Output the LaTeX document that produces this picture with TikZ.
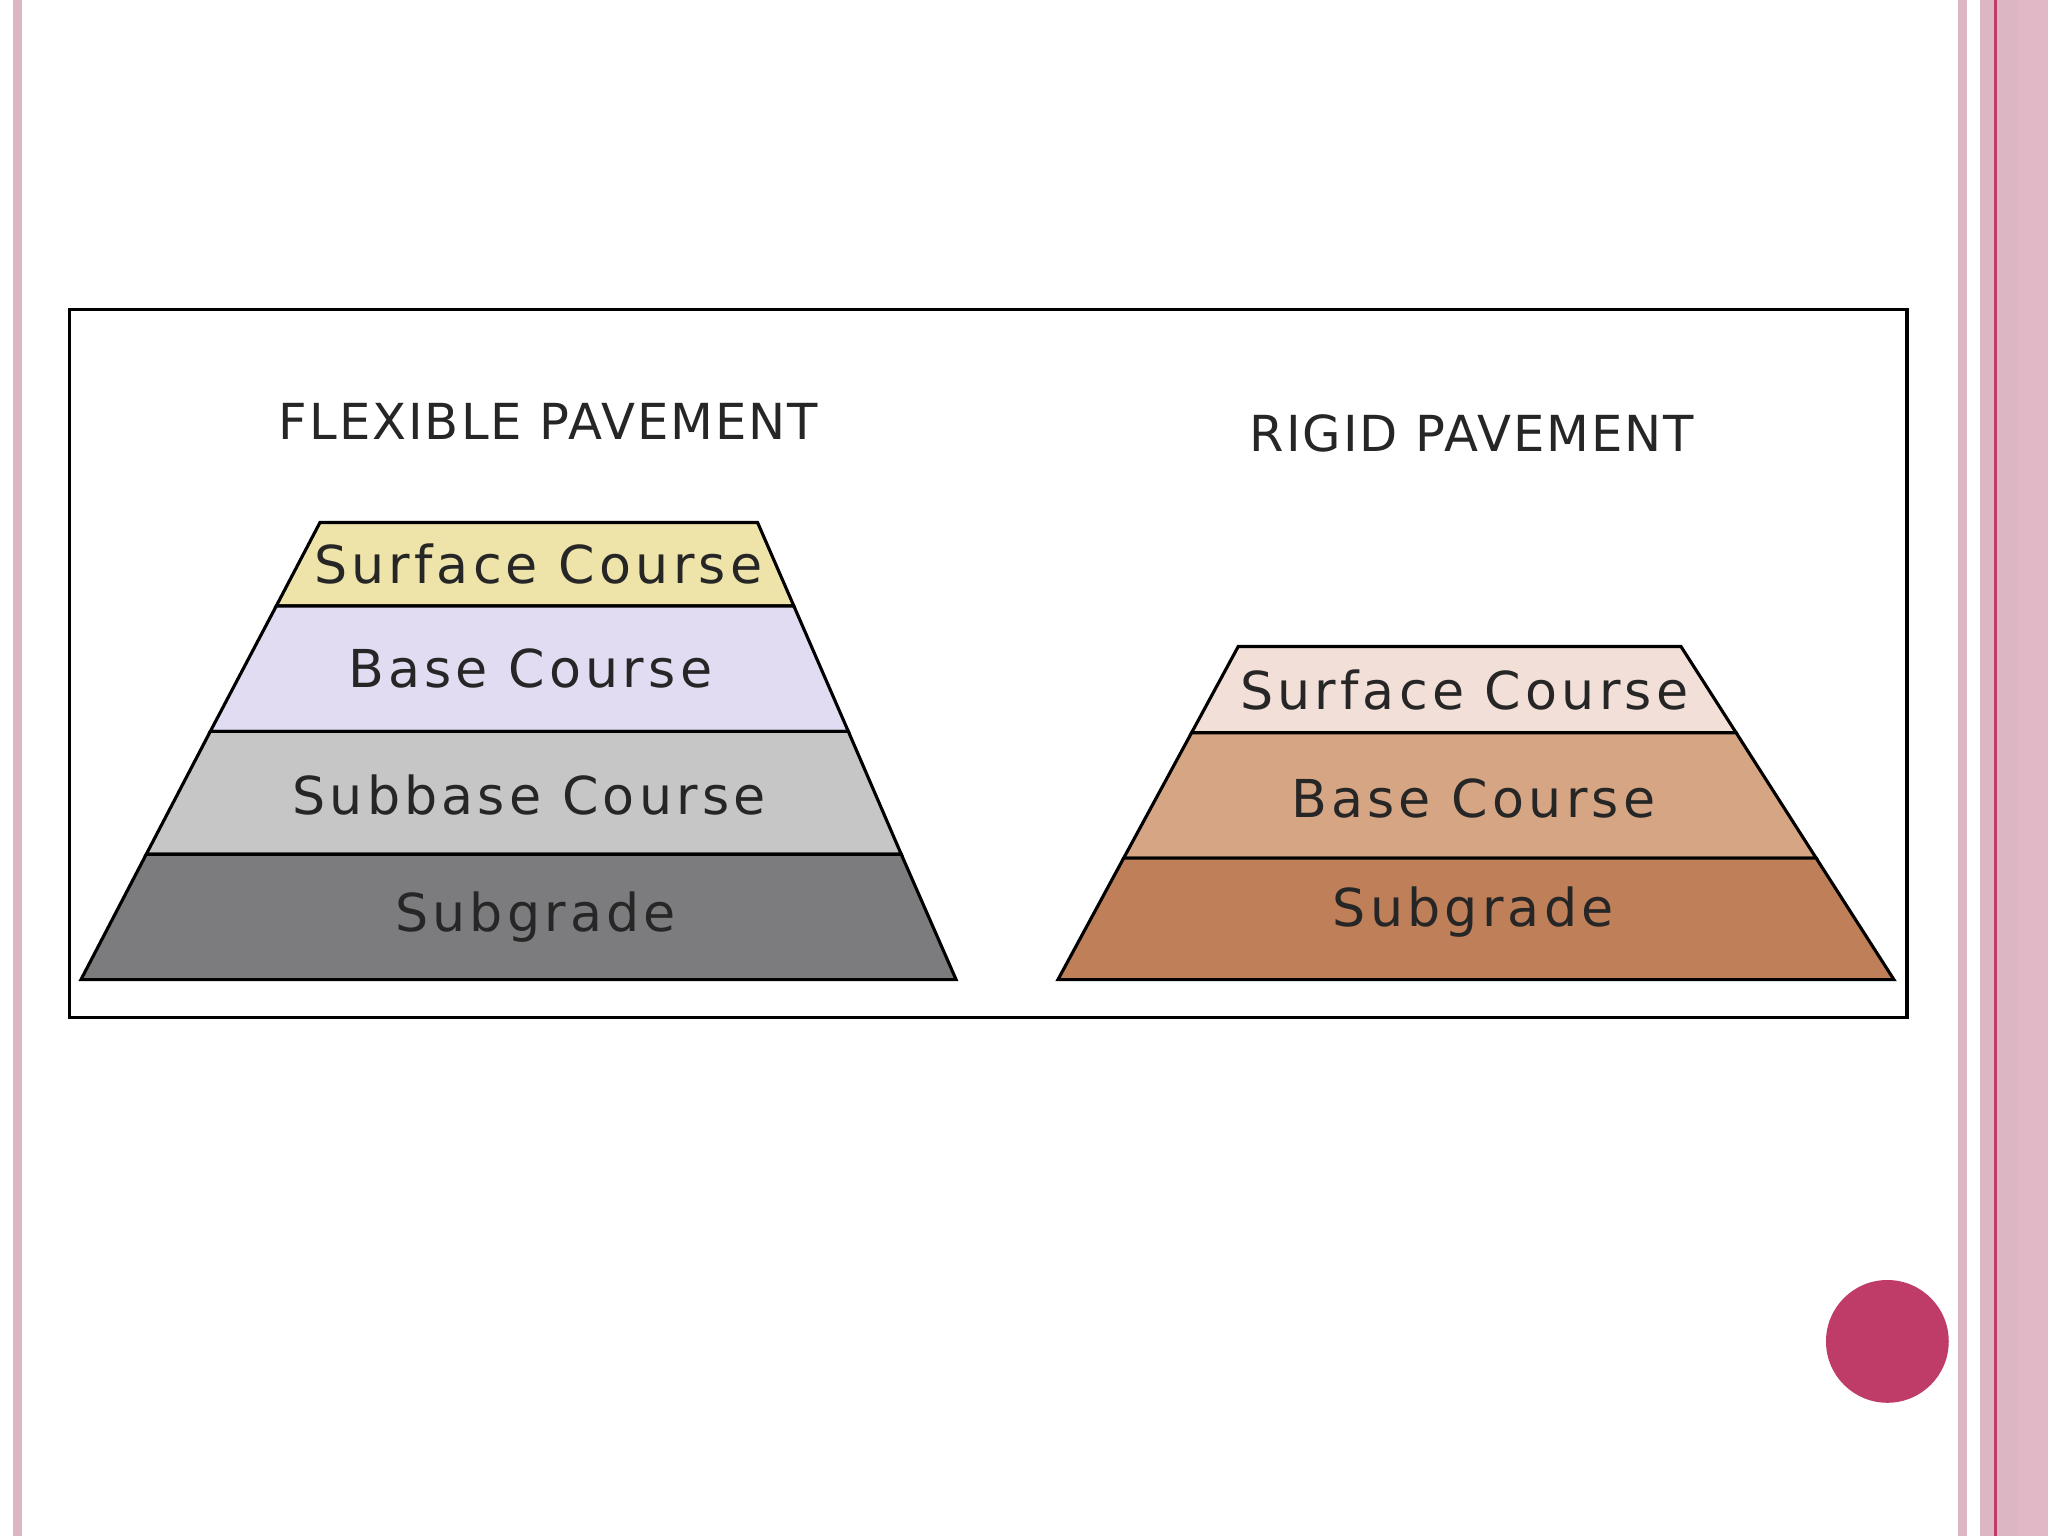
\documentclass[tikz,border=0pt]{standalone}
\usepackage{fontspec}
\setmainfont{DejaVu Sans}
\newfontfamily\spaced[LetterSpace=8]{DejaVu Sans}
\newfontfamily\spacedt[LetterSpace=4]{DejaVu Sans}
\begin{document}
\begin{tikzpicture}[x=0.5pt,y=-0.5pt,
  lay/.style={draw=black,line width=1.2pt},
  lbl/.style={font=\spaced\fontsize{20}{22}\selectfont,text=black!85},
  ttl/.style={font=\spacedt\fontsize{19}{22}\selectfont,text=black!85}]
\definecolor{dotc}{HTML}{C03C68}\definecolor{linec}{HTML}{BE3C64}
\definecolor{stripe}{HTML}{DDB6C4}\definecolor{stripe2}{HTML}{E0B8C6}
\useasboundingbox (0,0) rectangle (1568,1176);
\fill[white] (0,0) rectangle (1568,1176);
% edge stripes
\fill[stripe] (10,0) rectangle (17,1176);
\fill[stripe] (1499,0) rectangle (1506,1176);
\fill[stripe] (1516,0) rectangle (1568,1176);
\fill[stripe2] (1545,0) rectangle (1568,1176);
\draw[draw=linec,line width=1pt] (1528,0) -- (1528,1176);
% frame
\draw[line width=1.2pt] (53,237) rectangle (1460,779);
% flexible
\node[ttl] (ft) at (420,323) {FLEXIBLE PAVEMENT};
\definecolor{fs}{HTML}{EEE4AA}\definecolor{fb}{HTML}{E2DCF2}
\definecolor{fsb}{HTML}{C6C6C6}\definecolor{fg}{HTML}{7C7C7E}
\filldraw[lay,fill=fs] (245,400) -- (580,400) -- (607.8,464) -- (211.5,464) -- cycle;
\filldraw[lay,fill=fb] (211.5,464) -- (607.8,464) -- (649.5,560) -- (161,560) -- cycle;
\filldraw[lay,fill=fsb] (161,560) -- (649.5,560) -- (690,654) -- (112,654) -- cycle;
\filldraw[lay,fill=fg] (112,654) -- (690,654) -- (732,750) -- (62,750) -- cycle;
\node[lbl] (f1) at (412,432) {Surface Course};
\node[lbl] (f2) at (406,512) {Base Course};
\node[lbl] (f3) at (405,609) {Subbase Course};
\node[lbl] (f4) at (410,702) {Subgrade};
% rigid
\node[ttl] (rt) at (1127,332) {RIGID PAVEMENT};
\definecolor{rs}{HTML}{F2DFD7}\definecolor{rb}{HTML}{D6A584}\definecolor{rg}{HTML}{BE7F59}
\filldraw[lay,fill=rs] (948,495) -- (1287,495) -- (1329.2,561) -- (912.3,561) -- cycle;
\filldraw[lay,fill=rb] (912.3,561) -- (1329.2,561) -- (1390.5,657) -- (860.3,657) -- cycle;
\filldraw[lay,fill=rg] (860.3,657) -- (1390.5,657) -- (1450,750) -- (810,750) -- cycle;
\node[lbl] (r1) at (1121,528) {Surface Course};
\node[lbl] (r2) at (1128,611) {Base Course};
\node[lbl] (r3) at (1128,698) {Subgrade};
% dot
\fill[dotc] (1445,1027) circle (47);
\end{tikzpicture}
\end{document}
